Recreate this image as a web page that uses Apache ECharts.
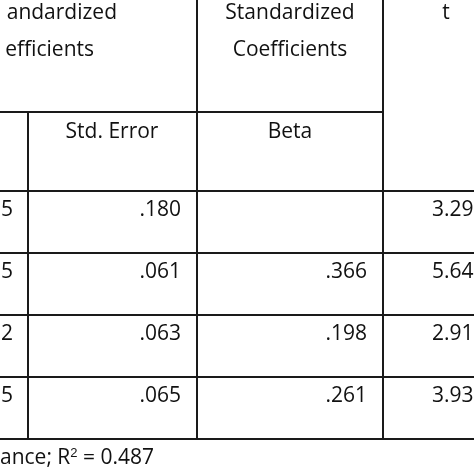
<!DOCTYPE html>
<html>
<head>
<meta charset="utf-8">
<script src="https://cdn.jsdelivr.net/npm/echarts@6/dist/echarts.min.js"></script>
<style>body{margin:0}#main{width:474px;height:474px}</style>
</head>
<body>
<div id="main"></div>
<script>
// table content
var colB = ['5', '5', '2', '5'];
var colSE = ['.180', '.061', '.063', '.065'];
var colBeta = ['', '.366', '.198', '.261'];
var colT = ['3.29', '5.64', '2.91', '3.93'];
var headTop = ['andardized', 'efficients'];
var headStd = ['Standardized', 'Coefficients'];

var chart = echarts.init(document.getElementById('main'));
var font = '21px "Open Sans", Lato, sans-serif';
var g = [];
function line(x1, y1, x2, y2) {
  g.push({type: 'line', shape: {x1: x1, y1: y1, x2: x2, y2: y2}, style: {stroke: '#1a1a1a', lineWidth: 2}});
}
function txt(s, x, y, align) {
  g.push({type: 'text', x: x, y: y, style: {text: s, font: font, fill: '#111', align: align || 'center', verticalAlign: 'middle'}});
}
var rowTop = 191, rowH = 62;
line(0, 112, 383, 112);
line(0, 191, 474, 191);
for (var i = 0; i < colB.length; i++) line(0, rowTop + rowH * (i + 1), 474, rowTop + rowH * (i + 1));
line(28, 112, 28, rowTop + rowH * 4);
line(197, 0, 197, rowTop + rowH * 4);
line(383, 0, 383, rowTop + rowH * 4);

txt(headTop[0], 117, 13, 'right');
txt(headTop[1], 94, 50, 'right');
txt(headStd[0], 290, 13);
txt(headStd[1], 290, 50);
txt('t', 446, 13);
txt('Std. Error', 112, 132);
txt('Beta', 290, 132);
for (var i = 0; i < colB.length; i++) {
  var y = rowTop + rowH * i + 19;
  txt(colB[i], 13, y, 'right');
  txt(colSE[i], 181, y, 'right');
  txt(colBeta[i], 367, y, 'right');
  txt(colT[i], 432, y, 'left');
}
g.push({type: 'text', x: 0, y: 458, style: {
  text: 'ance; R{s|2} = 0.487', font: font, fill: '#111', verticalAlign: 'middle',
  rich: {s: {fontSize: 13, verticalAlign: 'top', padding: [0, 0, 10, 0]}}
}});
chart.setOption({backgroundColor: '#fff', graphic: g});
</script>
</body>
</html>
